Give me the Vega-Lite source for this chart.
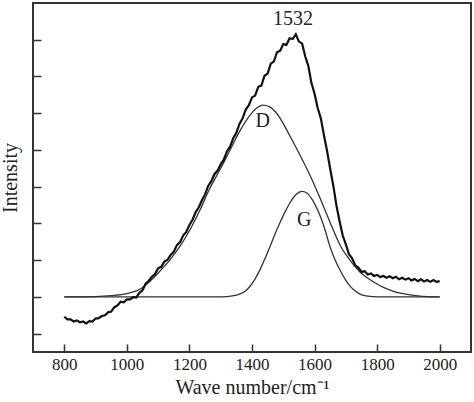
{
  "$schema": "https://vega.github.io/schema/vega-lite/v6.json",
  "description": "Raman spectrum with fitted D and G bands",
  "width": 438,
  "height": 349,
  "autosize": {"type": "none"},
  "padding": {"left": 33, "top": 3, "right": 3, "bottom": 50},
  "background": "white",
  "datasets": {
    "spectrum": [
      {"wn": 800, "v": -0.54}, {"wn": 810, "v": -0.61}, {"wn": 820, "v": -0.61}, {"wn": 830, "v": -0.67},
      {"wn": 840, "v": -0.64}, {"wn": 850, "v": -0.69}, {"wn": 860, "v": -0.67}, {"wn": 870, "v": -0.72},
      {"wn": 880, "v": -0.66}, {"wn": 890, "v": -0.67}, {"wn": 900, "v": -0.59}, {"wn": 910, "v": -0.58},
      {"wn": 920, "v": -0.52}, {"wn": 930, "v": -0.5}, {"wn": 940, "v": -0.42}, {"wn": 950, "v": -0.4},
      {"wn": 960, "v": -0.28}, {"wn": 970, "v": -0.23}, {"wn": 980, "v": -0.13}, {"wn": 990, "v": -0.15},
      {"wn": 1000, "v": -0.07}, {"wn": 1010, "v": -0.07}, {"wn": 1020, "v": -0.01}, {"wn": 1030, "v": -0.02},
      {"wn": 1040, "v": 0.11}, {"wn": 1050, "v": 0.18}, {"wn": 1060, "v": 0.36}, {"wn": 1070, "v": 0.44},
      {"wn": 1080, "v": 0.55}, {"wn": 1090, "v": 0.62}, {"wn": 1100, "v": 0.78}, {"wn": 1110, "v": 0.82},
      {"wn": 1120, "v": 0.96}, {"wn": 1130, "v": 1.01}, {"wn": 1140, "v": 1.14}, {"wn": 1150, "v": 1.23},
      {"wn": 1160, "v": 1.41}, {"wn": 1170, "v": 1.49}, {"wn": 1180, "v": 1.67}, {"wn": 1190, "v": 1.77},
      {"wn": 1200, "v": 1.96}, {"wn": 1210, "v": 2.1}, {"wn": 1220, "v": 2.31}, {"wn": 1230, "v": 2.44},
      {"wn": 1240, "v": 2.63}, {"wn": 1250, "v": 2.79}, {"wn": 1260, "v": 3.02}, {"wn": 1270, "v": 3.15},
      {"wn": 1280, "v": 3.34}, {"wn": 1290, "v": 3.44}, {"wn": 1300, "v": 3.61}, {"wn": 1310, "v": 3.74},
      {"wn": 1320, "v": 3.96}, {"wn": 1330, "v": 4.09}, {"wn": 1340, "v": 4.32}, {"wn": 1350, "v": 4.47},
      {"wn": 1360, "v": 4.71}, {"wn": 1370, "v": 4.86}, {"wn": 1380, "v": 5.1}, {"wn": 1390, "v": 5.22},
      {"wn": 1400, "v": 5.43}, {"wn": 1410, "v": 5.48}, {"wn": 1420, "v": 5.72}, {"wn": 1430, "v": 5.75},
      {"wn": 1440, "v": 6.02}, {"wn": 1450, "v": 6.08}, {"wn": 1460, "v": 6.35}, {"wn": 1470, "v": 6.41},
      {"wn": 1480, "v": 6.66}, {"wn": 1490, "v": 6.7}, {"wn": 1500, "v": 6.88}, {"wn": 1510, "v": 6.86},
      {"wn": 1520, "v": 7.04}, {"wn": 1530, "v": 7.02}, {"wn": 1540, "v": 7.15}, {"wn": 1550, "v": 6.95},
      {"wn": 1560, "v": 6.9}, {"wn": 1570, "v": 6.55}, {"wn": 1580, "v": 6.29}, {"wn": 1590, "v": 5.82},
      {"wn": 1600, "v": 5.53}, {"wn": 1610, "v": 5.14}, {"wn": 1620, "v": 4.86}, {"wn": 1630, "v": 4.4},
      {"wn": 1640, "v": 3.97}, {"wn": 1650, "v": 3.48}, {"wn": 1660, "v": 3.02}, {"wn": 1670, "v": 2.48},
      {"wn": 1680, "v": 2.06}, {"wn": 1690, "v": 1.67}, {"wn": 1700, "v": 1.43}, {"wn": 1710, "v": 1.16},
      {"wn": 1720, "v": 1.05}, {"wn": 1730, "v": 0.86}, {"wn": 1740, "v": 0.8}, {"wn": 1750, "v": 0.68},
      {"wn": 1760, "v": 0.7}, {"wn": 1770, "v": 0.61}, {"wn": 1780, "v": 0.64}, {"wn": 1790, "v": 0.57},
      {"wn": 1800, "v": 0.6}, {"wn": 1810, "v": 0.54}, {"wn": 1820, "v": 0.57}, {"wn": 1830, "v": 0.52},
      {"wn": 1840, "v": 0.56}, {"wn": 1850, "v": 0.51}, {"wn": 1860, "v": 0.55}, {"wn": 1870, "v": 0.48},
      {"wn": 1880, "v": 0.52}, {"wn": 1890, "v": 0.47}, {"wn": 1900, "v": 0.51}, {"wn": 1910, "v": 0.45},
      {"wn": 1920, "v": 0.49}, {"wn": 1930, "v": 0.43}, {"wn": 1940, "v": 0.48}, {"wn": 1950, "v": 0.42},
      {"wn": 1960, "v": 0.46}, {"wn": 1970, "v": 0.41}, {"wn": 1980, "v": 0.46}, {"wn": 1990, "v": 0.41},
      {"wn": 2000, "v": 0.43}
    ],
    "fits": [
      {"p": "D", "wn": 800, "v": 0}, {"p": "D", "wn": 900, "v": 0.01}, {"p": "D", "wn": 950, "v": 0.035},
      {"p": "D", "wn": 1000, "v": 0.09}, {"p": "D", "wn": 1040, "v": 0.2}, {"p": "D", "wn": 1073, "v": 0.42},
      {"p": "D", "wn": 1100, "v": 0.65}, {"p": "D", "wn": 1137, "v": 1.0}, {"p": "D", "wn": 1170, "v": 1.38},
      {"p": "D", "wn": 1200, "v": 1.8}, {"p": "D", "wn": 1233, "v": 2.35}, {"p": "D", "wn": 1265, "v": 2.95},
      {"p": "D", "wn": 1300, "v": 3.5}, {"p": "D", "wn": 1330, "v": 4.0}, {"p": "D", "wn": 1360, "v": 4.5},
      {"p": "D", "wn": 1394, "v": 4.95}, {"p": "D", "wn": 1415, "v": 5.14}, {"p": "D", "wn": 1435, "v": 5.22},
      {"p": "D", "wn": 1455, "v": 5.18}, {"p": "D", "wn": 1475, "v": 5.04}, {"p": "D", "wn": 1490, "v": 4.86},
      {"p": "D", "wn": 1520, "v": 4.4}, {"p": "D", "wn": 1554, "v": 3.85}, {"p": "D", "wn": 1586, "v": 3.3},
      {"p": "D", "wn": 1618, "v": 2.68}, {"p": "D", "wn": 1650, "v": 2.02}, {"p": "D", "wn": 1682, "v": 1.4},
      {"p": "D", "wn": 1715, "v": 0.98}, {"p": "D", "wn": 1745, "v": 0.68}, {"p": "D", "wn": 1768, "v": 0.52},
      {"p": "D", "wn": 1800, "v": 0.35}, {"p": "D", "wn": 1820, "v": 0.26}, {"p": "D", "wn": 1850, "v": 0.16},
      {"p": "D", "wn": 1875, "v": 0.1}, {"p": "D", "wn": 1900, "v": 0.06}, {"p": "D", "wn": 1930, "v": 0.03},
      {"p": "D", "wn": 1960, "v": 0.01}, {"p": "D", "wn": 2000, "v": 0},
      {"p": "G", "wn": 800, "v": 0}, {"p": "G", "wn": 1280, "v": 0}, {"p": "G", "wn": 1320, "v": 0.01},
      {"p": "G", "wn": 1345, "v": 0.04}, {"p": "G", "wn": 1362, "v": 0.08}, {"p": "G", "wn": 1380, "v": 0.17},
      {"p": "G", "wn": 1394, "v": 0.29}, {"p": "G", "wn": 1410, "v": 0.49}, {"p": "G", "wn": 1426, "v": 0.75},
      {"p": "G", "wn": 1442, "v": 1.05}, {"p": "G", "wn": 1458, "v": 1.38}, {"p": "G", "wn": 1474, "v": 1.72},
      {"p": "G", "wn": 1490, "v": 2.03}, {"p": "G", "wn": 1506, "v": 2.32}, {"p": "G", "wn": 1522, "v": 2.57},
      {"p": "G", "wn": 1540, "v": 2.78}, {"p": "G", "wn": 1560, "v": 2.87}, {"p": "G", "wn": 1575, "v": 2.83},
      {"p": "G", "wn": 1590, "v": 2.68}, {"p": "G", "wn": 1605, "v": 2.45}, {"p": "G", "wn": 1618, "v": 2.2},
      {"p": "G", "wn": 1635, "v": 1.78}, {"p": "G", "wn": 1650, "v": 1.35}, {"p": "G", "wn": 1665, "v": 1.02},
      {"p": "G", "wn": 1682, "v": 0.72}, {"p": "G", "wn": 1700, "v": 0.45}, {"p": "G", "wn": 1715, "v": 0.28},
      {"p": "G", "wn": 1730, "v": 0.16}, {"p": "G", "wn": 1747, "v": 0.07}, {"p": "G", "wn": 1770, "v": 0.02},
      {"p": "G", "wn": 1800, "v": 0}, {"p": "G", "wn": 2000, "v": 0}
    ],
    "labels": [
      {"wn": 1531, "v": 7.56, "t": "1532", "w": "normal"},
      {"wn": 1434, "v": 4.78, "t": "D", "w": "normal"},
      {"wn": 1567, "v": 2.1, "t": "G", "w": "bold"}
    ]
  },
  "encoding": {
    "x": {
      "field": "wn",
      "type": "quantitative",
      "scale": {"domain": [700, 2100], "nice": false, "zero": false},
      "axis": {
        "title": "Wave number/cm⁻¹",
        "values": [800, 1000, 1200, 1400, 1600, 1800, 2000],
        "format": "d",
        "labelPadding": 12,
        "titlePadding": 5
      }
    },
    "y": {
      "field": "v",
      "type": "quantitative",
      "scale": {"domain": [-1.5, 8], "nice": false, "zero": false},
      "axis": {
        "title": "Intensity",
        "values": [-1, 0, 1, 2, 3, 4, 5, 6, 7],
        "labels": false,
        "titlePadding": 12
      }
    }
  },
  "layer": [
    {
      "data": {"name": "fits"},
      "mark": {"type": "line", "interpolate": "monotone", "color": "#333333", "strokeWidth": 1.3},
      "encoding": {"detail": {"field": "p"}}
    },
    {
      "data": {"name": "spectrum"},
      "mark": {"type": "line", "color": "#111111", "strokeWidth": 2.2}
    },
    {
      "data": {"name": "labels"},
      "mark": {"type": "text", "font": "Liberation Serif", "fontSize": 20, "color": "#222222"},
      "encoding": {
        "text": {"field": "t"},
        "fontWeight": {"field": "w", "type": "nominal", "scale": null}
      }
    }
  ],
  "config": {
    "view": {"stroke": "#333333", "strokeWidth": 2},
    "axis": {
      "domain": false,
      "grid": false,
      "tickSize": -8,
      "tickWidth": 1.5,
      "tickColor": "#333333",
      "labelFont": "Liberation Serif",
      "labelFontSize": 17,
      "labelColor": "#222222",
      "titleFont": "Liberation Serif",
      "titleFontSize": 20,
      "titleFontWeight": "normal",
      "titleColor": "#222222"
    }
  }
}
